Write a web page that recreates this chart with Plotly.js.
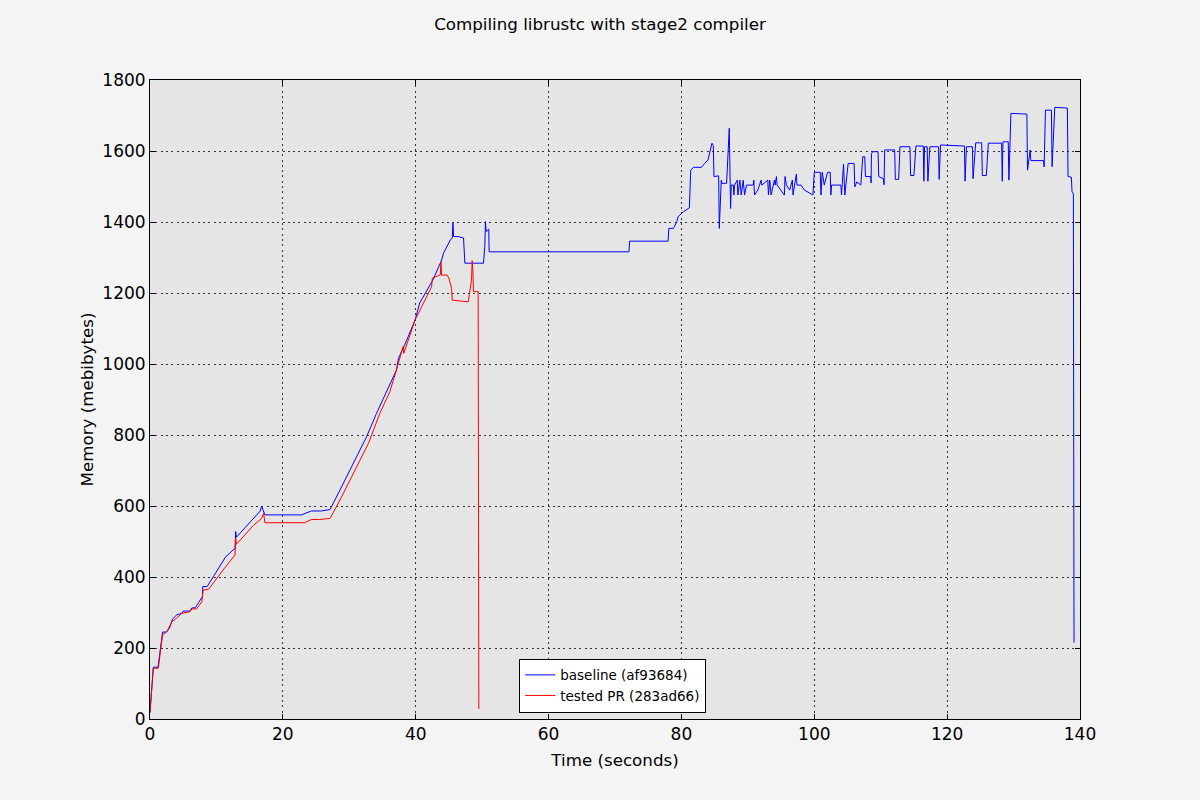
<!DOCTYPE html>
<html>
<head>
<meta charset="utf-8">
<script src="https://cdn.plot.ly/plotly-3.0.1.min.js"></script>
<style>
  html, body { margin: 0; padding: 0; background: #f4f4f4; }
  #chart { width: 1200px; height: 800px; }
</style>
</head>
<body>
<div id="chart"></div>
<script>
// baseline (af93684): time in seconds, memory in MiB
var baseTime = [
    0, 0.5, 1.2, 1.5, 1.9, 2.5, 3.0, 3.4, 4.0, 4.8, 5.0, 6.0, 6.3, 6.8, 7.9, 7.95, 8.6,
    11.1, 11.3, 12.5, 12.8, 12.9, 13.0, 16.6, 16.8, 17.0, 17.3, 22.8, 24.3, 25.8, 27.1,
    28.6, 30.6, 32.6, 34.1, 35.6, 37.1, 37.4, 38.6, 39.9, 40.6, 42.6, 43.9, 44.2, 45.2,
    45.5, 45.6, 45.7, 46.4, 47.2, 47.3, 47.4, 50.2, 50.4, 50.5, 50.6, 51.0, 51.05,
    72.1, 72.2, 78.0, 78.1, 78.8, 79.3, 79.5, 80.3, 81.2, 81.4, 81.8, 83.0, 83.5, 84.0,
    84.6, 84.8, 84.9, 85.6, 85.7, 86.0, 86.1, 86.8, 87.2, 87.4, 87.5,
    87.8, 87.9, 88.0, 88.4, 88.5, 88.8, 89.0, 89.3, 89.5, 89.8, 90.8, 90.9, 91.0, 91.5,
    92.0, 92.1, 93.0, 93.1, 93.3, 93.5, 94.0, 94.1, 94.3, 94.4, 95.5, 95.6, 95.8, 96.3,
    96.7, 96.8, 97.3, 97.4, 98.0, 98.5, 99.8, 100.0, 100.9, 101.0, 101.2, 101.5, 102.0,
    102.4, 102.5, 102.6, 104.0, 104.1, 104.4, 104.6, 105.1, 106.0, 106.1, 106.4, 107.0,
    107.3, 107.6, 107.7, 108.5, 108.55, 108.6, 108.8, 109.6, 109.7, 110.4, 110.5, 110.6,
    112.1, 112.2, 112.7, 112.9, 114.4, 114.5, 115.0, 115.3, 116.4, 116.5, 116.6, 117.0,
    117.1, 117.4, 118.7, 118.8, 119.0, 122.6, 122.7, 122.9, 123.8, 123.9, 124.3, 125.2,
    125.3, 125.9, 126.2, 128.2, 128.3, 128.4, 129.2, 129.3, 129.6, 132.0, 132.1, 132.5,
    132.6, 134.5, 134.6, 134.7, 134.8, 135.7, 135.8, 136.2, 138.1, 138.2, 138.7, 138.8,
    139.0, 139.1
];
var baseMem = [
    20, 146, 146, 189, 245, 245, 259, 282, 293, 298, 304, 304, 313, 313, 345, 373, 373,
    448, 455, 476, 480, 528, 512, 586, 600, 590, 575, 575, 586, 586, 590,
    645, 720, 795, 861, 922, 983, 1016, 1065, 1124, 1172, 1237, 1293, 1313, 1349,
    1355, 1397, 1359, 1359, 1355, 1293, 1284, 1284, 1330, 1401, 1373, 1380, 1316,
    1316, 1346, 1346, 1382, 1382, 1401, 1415, 1429, 1440, 1546, 1554, 1554, 1565, 1575,
    1622, 1615, 1528, 1530, 1382, 1518, 1509, 1509, 1664, 1438, 1504,
    1504, 1476, 1504, 1518, 1476, 1518, 1476, 1518, 1476, 1504, 1504, 1518, 1476, 1490,
    1518, 1504, 1518, 1476, 1518, 1476, 1518, 1504, 1528, 1504, 1476, 1528, 1504, 1490,
    1518, 1476, 1535, 1504, 1504, 1490, 1476, 1540, 1540, 1476, 1540, 1504, 1540,
    1540, 1476, 1504, 1504, 1476, 1563, 1476, 1565, 1565, 1499, 1513, 1504,
    1584, 1584, 1528, 1528, 1510, 1593, 1598, 1598, 1528, 1522, 1505, 1603,
    1603, 1520, 1520, 1612, 1612, 1531, 1531, 1614, 1614, 1515, 1612, 1612,
    1515, 1612, 1612, 1520, 1617, 1614, 1515, 1612, 1612, 1522, 1623, 1623,
    1531, 1531, 1622, 1622, 1515, 1626, 1626, 1518, 1706, 1704, 1546, 1603,
    1573, 1573, 1555, 1697, 1715, 1715, 1556, 1723, 1721, 1528, 1526, 1486,
    1480, 215
];

// tested PR (283ad66)
var prTime = [
    0, 0.5, 1.25, 1.9, 2.5, 3.3, 4.0, 4.8, 6.0, 6.3, 7.0, 7.8, 8.0, 8.8, 11.3, 12.8,
    12.9, 13.0, 15.6, 16.8, 17.1, 17.3, 23.3, 24.3, 25.5, 27.1, 28.6, 30.9, 32.9, 34.6,
    36.1, 37.1, 38.0, 38.1, 38.2, 39.9, 42.4, 42.5, 43.7, 43.8, 43.9, 44.7, 45.0, 45.4,
    45.5, 47.9, 48.1, 48.3, 48.4, 48.5, 48.6, 48.7, 49.4, 49.5
];
var prMem = [
    17, 143, 143, 237, 245, 274, 284, 298, 302, 310, 310, 330, 363, 365, 427, 462,
    509, 492, 546, 565, 579, 553, 553, 562, 562, 565, 617, 701, 777, 861,
    922, 983, 1040, 1049, 1030, 1124, 1218, 1242, 1251, 1288, 1250, 1251, 1242, 1213,
    1180, 1175, 1199, 1232, 1237, 1291, 1265, 1204, 1204, 28
];

var xTicks = [0, 20, 40, 60, 80, 100, 120, 140];
var yTicks = [0, 200, 400, 600, 800, 1000, 1200, 1400, 1600, 1800];

var data =
[
    {
        name: 'baseline (af93684)',
        mode: 'lines',
        x: baseTime,
        y: baseMem,
        line: { color: '#0000ff', width: 1 }
    },
    {
        name: 'tested PR (283ad66)',
        mode: 'lines',
        x: prTime,
        y: prMem,
        line: { color: '#ff0000', width: 1 }
    }
];

var axisCommon =
{
    showline: true,
    linecolor: 'black',
    linewidth: 1,
    mirror: 'ticks',
    ticks: 'inside',
    ticklen: 5,
    tickcolor: 'black',
    showgrid: true,
    gridcolor: '#333333',
    griddash: '2px,3.3px',
    gridwidth: 1,
    zeroline: false,
    tickfont: { family: 'DejaVu Sans', size: 17, color: 'black' }
};

var layout =
{
    width: 1200,
    height: 800,
    paper_bgcolor: '#f4f4f4',
    plot_bgcolor: '#e5e5e5',
    font: { family: 'DejaVu Sans', color: 'black' },
    title:
    {
        text: 'Compiling librustc with stage2 compiler',
        font: { family: 'DejaVu Sans', size: 16.7 },
        x: 0.5,
        xanchor: 'center',
        y: 0.97,
        yanchor: 'middle'
    },
    xaxis: Object.assign({}, axisCommon,
    {
        range: [0, 140],
        tickvals: xTicks,
        ticktext: xTicks.map(String),
        title: { text: 'Time (seconds)', font: { size: 16.7 }, standoff: 10 }
    }),
    yaxis: Object.assign({}, axisCommon,
    {
        range: [0, 1800],
        tickvals: yTicks,
        ticktext: yTicks.map(String),
        title: { text: 'Memory (mebibytes)', font: { size: 16.7 }, standoff: 4 }
    }),
    showlegend: true,
    legend:
    {
        x: 0.397,
        y: 0.01,
        xanchor: 'left',
        yanchor: 'bottom',
        bgcolor: 'white',
        bordercolor: 'black',
        borderwidth: 1,
        tracegroupgap: 0,
        itemwidth: 30,
        font: { family: 'DejaVu Sans', size: 13.5 }
    },
    margin: { l: 150, r: 120, t: 80, b: 81 }
};

Plotly.newPlot('chart', data, layout, { displayModeBar: false, staticPlot: true });
</script>
</body>
</html>
